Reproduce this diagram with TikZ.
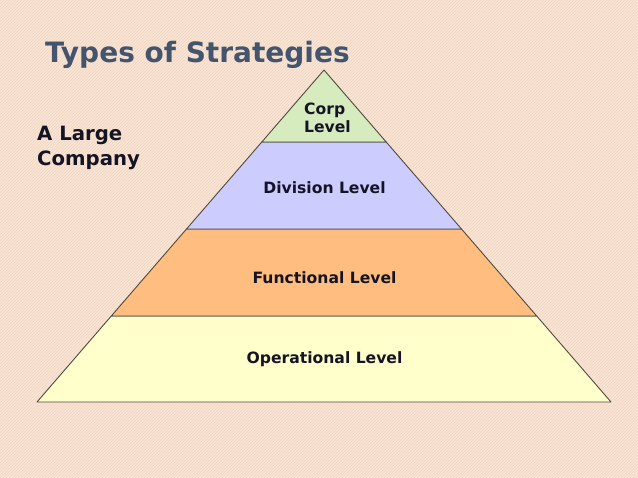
\documentclass[tikz,border=0pt]{standalone}
\usepackage{fontspec}
\setmainfont{DejaVu Sans}
\usetikzlibrary{positioning}
\usetikzlibrary{patterns}
\definecolor{bgpeach}{RGB}{251,229,213}
\definecolor{bghatch}{RGB}{238,212,194}
\definecolor{titleblue}{RGB}{68,84,108}
\definecolor{corpgreen}{RGB}{214,236,190}
\definecolor{divlilac}{RGB}{204,204,255}
\definecolor{funcorange}{RGB}{255,190,128}
\definecolor{operyellow}{RGB}{255,255,204}
\definecolor{edgegray}{RGB}{80,74,62}
\definecolor{inkdark}{RGB}{20,20,36}
\tikzstyle{title} = [font=\bfseries\fontsize{28}{30}\selectfont, text=titleblue, anchor=base west, inner sep=0pt]
\tikzstyle{side} = [font=\bfseries\fontsize{19.7}{25}\selectfont, text=inkdark, anchor=base west, align=left, inner sep=0pt]
\tikzstyle{level} = [font=\bfseries\fontsize{15.6}{18}\selectfont, text=inkdark, anchor=base, inner sep=0pt]
\tikzstyle{layer} = [draw=edgegray, line width=0.9pt, line join=round]

\begin{document}
\begin{tikzpicture}[x=1pt, y=-1pt]

		\fill [bgpeach] (0,0) rectangle (638,478);
		\fill [pattern=north east lines, pattern color=bghatch] (0,0) rectangle (638,478);
		\useasboundingbox (0,0) rectangle (638,478);

		% corners of the pyramid and its layer edges
		\coordinate (apex) at (324,70);
		\coordinate (l1) at (261.8,142);
		\coordinate (r1) at (386.2,142);
		\coordinate (l2) at (186.5,229);
		\coordinate (r2) at (461.5,229);
		\coordinate (l3) at (111.3,316);
		\coordinate (r3) at (536.7,316);
		\coordinate (l4) at (37,402);
		\coordinate (r4) at (611,402);

		\draw [layer, fill=operyellow] (l3) -- (r3) -- (r4) -- (l4) -- cycle;
		\draw [layer, fill=funcorange] (l2) -- (r2) -- (r3) -- (l3) -- cycle;
		\draw [layer, fill=divlilac] (l1) -- (r1) -- (r2) -- (l2) -- cycle;
		\draw [layer, fill=corpgreen] (apex) -- (r1) -- (l1) -- cycle;

		\node (title) [title] at (45,63) {Types of Strategies};
		\node (company) [side] at (37,166) {A Large\\Company};

		\node (corp) [level, anchor=base west, align=left] at (304,133) {Corp\\Level};
		\node (division) [level] at (324.5,194) {Division Level};
		\node (functional) [level] at (324.5,284) {Functional Level};
		\node (operational) [level] at (324.5,364) {Operational Level};

	\end{tikzpicture}
\end{document}
